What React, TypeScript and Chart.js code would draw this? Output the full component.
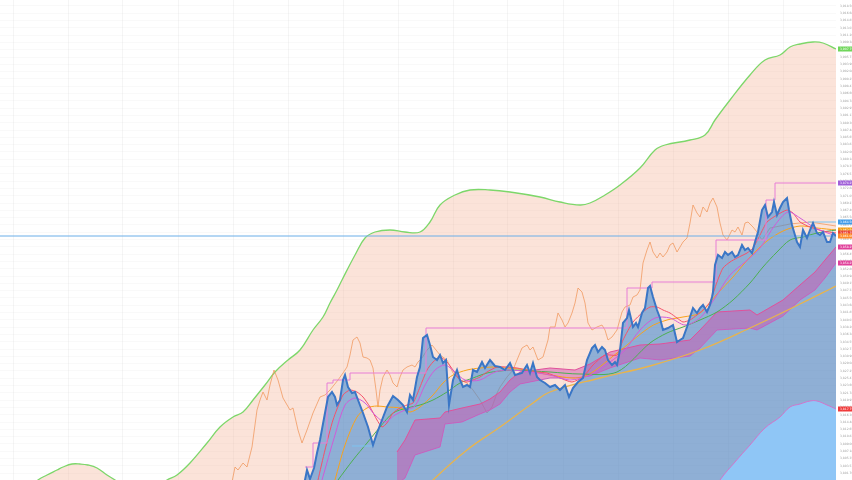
import React, { useEffect, useRef } from "react";
import { Chart, registerables } from "chart.js";

Chart.register(...registerables);

type P = [number, number | null];

// time index (bars) vs price
const upperBand: P[] = [
  [7, 3797.5], [9.5, 3800], [11.75, 3801.25], [14.25, 3802.5], [15.75, 3803.25], [18, 3804], [20, 3804],
  [22, 3803.75], [24.25, 3803], [26.75, 3801.25], [28.75, 3800], [31.25, 3798], [35, 3797], [38.75, 3798],
  [41.75, 3800], [44.25, 3801.25], [47.5, 3804.25], [51.75, 3809.25], [55, 3813.25], [58.25, 3815.75],
  [60.75, 3817], [63.25, 3820], [66.25, 3823.75], [68.75, 3827], [72, 3830], [75, 3832.5], [78.25, 3837.5],
  [80.75, 3840.75], [82.5, 3844.25], [84.25, 3847.5], [85.5, 3850], [88.75, 3856.25], [91.25, 3860.5],
  [93.75, 3862], [97.5, 3862.5], [101.25, 3862], [105, 3862], [107.5, 3864.5], [110, 3868.75],
  [113.75, 3871.25], [117.5, 3872.5], [122.5, 3872.5], [127.5, 3872], [135, 3870.75], [140, 3869.5],
  [145, 3868.75], [147.5, 3869.25], [151.25, 3871.25], [155, 3873.75], [160, 3878], [163.75, 3882.5],
  [166.25, 3883.75], [172.5, 3885], [176.25, 3886.25], [178.75, 3890], [182.5, 3895], [187.5, 3901.25],
  [191.25, 3905], [195, 3906.25], [197.5, 3908.25], [200, 3909], [203.25, 3909.5], [205.75, 3909.25],
  [209, 3907.75],
];

const lowerBand: P[] = [
  [178.75, 3797.5], [180, 3800], [183.75, 3804.5], [187.5, 3808.75], [191.25, 3813], [195, 3815.75],
  [197.5, 3818.25], [200, 3819], [202.5, 3819.75], [204.25, 3819.75], [206.75, 3818.75], [209, 3817.75],
];

const price: P[] = [
  [75, 3797.5], [76.25, 3800], [76.75, 3802.5], [77.5, 3800.25], [78.5, 3803], [79.25, 3806.75], [80, 3810],
  [81.25, 3816.75], [82, 3820.75], [83, 3822], [83.75, 3820.75], [84.25, 3818.75], [85, 3820], [85.75, 3825],
  [86.25, 3826.25], [87, 3823.25], [88, 3821.75], [88.75, 3822], [89.5, 3820], [90.75, 3816.75], [92, 3813.25],
  [93.25, 3808.75], [94.25, 3811.75], [95.5, 3815], [96.75, 3818.25], [98.25, 3821], [99.5, 3820],
  [100.75, 3818.75], [101.75, 3817], [102.5, 3821.25], [103.25, 3820], [104.25, 3825.75], [105, 3828.25],
  [105.75, 3835.5], [106.75, 3836.25], [107.5, 3833.75], [108.25, 3830.75], [109.25, 3830], [110, 3831.25],
  [110.75, 3829.25], [111.5, 3830], [112.25, 3818.75], [113.25, 3825], [114.25, 3827.5], [115, 3825],
  [115.75, 3823.25], [116.75, 3823.75], [117.5, 3823.25], [118.25, 3827.5], [119.25, 3827], [120.5, 3829.5],
  [121.25, 3828], [122.5, 3830], [123.75, 3828.5], [125, 3828.25], [126.25, 3827.5], [127.5, 3829.25],
  [128.75, 3826.25], [130.5, 3826.75], [131.75, 3828.75], [132.5, 3826.75], [133.25, 3829.25],
  [134.25, 3825.75], [135, 3825], [136.25, 3824.25], [137.5, 3823.25], [138.75, 3823.75], [140, 3822.5],
  [141.25, 3823.75], [142.25, 3820.75], [143.25, 3823], [144.5, 3824.5], [145.75, 3825.5], [146.75, 3830],
  [148, 3833], [148.75, 3833.75], [149.5, 3832], [150.5, 3833.25], [151.25, 3832.5], [152, 3830],
  [153, 3828.75], [153.75, 3829.5], [154.25, 3828.75], [155, 3832.5], [155.75, 3839.25], [156.75, 3840.5],
  [157.25, 3842.5], [158.25, 3838.25], [159, 3839.25], [159.5, 3838.25], [160.5, 3841.75], [161.25, 3843],
  [162, 3848], [162.5, 3848.5], [163.25, 3845.75], [164.25, 3842.5], [165, 3840.5], [165.75, 3837.5],
  [167, 3838], [168.25, 3838.75], [169.25, 3834.5], [170, 3835], [170.75, 3835.5], [171.75, 3838.25],
  [172.5, 3840.75], [173.25, 3843], [174.25, 3841.75], [175, 3843], [175.75, 3843.75], [176.75, 3842],
  [177.5, 3843.75], [178, 3845.75], [178.25, 3847], [178.75, 3853.75], [179.5, 3856.25], [180.5, 3855.5],
  [181.25, 3857], [182, 3856.25], [183, 3857], [183.75, 3855.75], [184.5, 3856.25], [185.5, 3858.75],
  [186.25, 3857.5], [187, 3858], [188, 3856.75], [188.75, 3859.5], [189.5, 3862], [190.5, 3867.5],
  [191.25, 3868.75], [192, 3865.75], [193, 3867], [193.5, 3869.5], [194.25, 3866.25], [195, 3868],
  [195.75, 3869.5], [196.75, 3870.5], [197.25, 3867.5], [198, 3863.75], [199.25, 3859.5], [200, 3858.25],
  [200.75, 3862.5], [201.75, 3860.5], [202.5, 3862.5], [203.25, 3864.25], [204.25, 3861.75], [205, 3861.25],
  [205.75, 3862], [206.75, 3859.5], [207.5, 3859.5], [208.25, 3861.75], [209, 3861],
];

const highLine: P[] = [
  [58, 3799.5], [58.75, 3803.25], [59.5, 3802.5], [60.75, 3804.25], [61.75, 3803.25], [63, 3808.25],
  [64.25, 3817.5], [65, 3820], [65.75, 3822], [66.75, 3820], [67.5, 3823.75], [68.5, 3827.5], [69.5, 3825],
  [70.75, 3820.5], [72.5, 3817.5], [73.25, 3818], [74.5, 3812.5], [75.5, 3809.25], [76.75, 3812.5],
  [78.25, 3816.75], [80, 3820.75], [81.25, 3821.25], [82.5, 3822.5], [84.5, 3825], [85.75, 3826.75],
  [86.75, 3828.25], [87.5, 3831.25], [88.25, 3835], [89.25, 3835.75], [90, 3834.25], [90.75, 3830.75],
  [91.75, 3830.5], [92.5, 3830], [93.25, 3828], [94, 3822.5], [94.5, 3818.25], [95, 3822.5], [95.75, 3825.75],
  [96.75, 3827.5], [97.5, 3826.25], [98.25, 3824.25], [99.25, 3823.25], [100, 3825.75], [100.75, 3827.5],
  [101.75, 3828.25], [103, 3828.75], [103.75, 3828.25], [104.5, 3829.5], [105.5, 3830.5], [106.75, 3832.5],
  [108, 3833.75], [110, 3831.25], [111.75, 3830], [113.25, 3826.75], [115, 3825], [116.75, 3824.25],
  [118.25, 3822.5], [120, 3820], [121.75, 3816.75], [123, 3818.25], [124.25, 3821.75], [125, 3823.25],
  [126.75, 3825.75], [128.25, 3827.5], [129.25, 3830], [130.5, 3833], [131.75, 3833.75], [132.5, 3832.5],
  [133.25, 3833.25], [134.5, 3830], [135.75, 3830.75], [137, 3835], [137.5, 3838.25], [138.75, 3838.25],
  [139.5, 3841.75], [140.5, 3840], [141.25, 3838.25], [142, 3839.25], [143, 3841.75], [143.75, 3844.25],
  [144.5, 3848], [145.5, 3847], [146.25, 3844.25], [147, 3839.25], [148, 3837.5], [149.25, 3838.25],
  [150.5, 3838.75], [151.25, 3837.5], [152, 3835], [153, 3835.75], [154.25, 3837.5], [155.5, 3842],
  [156.25, 3843.25], [157.5, 3843.75], [158.25, 3845.75], [159.25, 3846.25], [160, 3847.5], [160.75, 3854.25],
  [161.75, 3857.5], [162.5, 3859.5], [163.25, 3857], [164.25, 3855.5], [165, 3856.75], [165.75, 3855.75],
  [166.75, 3857], [167.5, 3858.75], [168.25, 3859.25], [169.25, 3857], [170, 3858.25], [170.75, 3859.5],
  [171.75, 3860.5], [172.5, 3864.25], [173.25, 3868.75], [174.25, 3866.75], [175, 3865.75], [175.75, 3868.25],
  [176.75, 3867], [177.5, 3869.25], [178.25, 3870.5], [179.25, 3868.25], [180, 3864.25], [180.75, 3861.25],
  [181.75, 3860], [183, 3862.5], [183.75, 3862], [184.5, 3863.25], [185.5, 3861.25], [186.25, 3864.25],
  [187, 3864.5], [188.25, 3863.25], [189.25, 3862], [190.5, 3860], [192.5, 3863], [197.5, 3864],
  [202.5, 3864.5], [209, 3863.5],
];

const fastMA: P[] = [
  [79.5, 3800], [81.25, 3807.5], [83.25, 3815], [85.75, 3821.25], [87.5, 3822.5], [89.25, 3822],
  [90.75, 3820.75], [92.5, 3818.25], [94.25, 3815], [95.5, 3813.25], [96.75, 3814.25], [98.25, 3816.75],
  [100, 3818], [101.75, 3818.75], [103.25, 3819.25], [105, 3823.25], [106.75, 3827.5], [108.25, 3829.5],
  [110, 3830.75], [111.75, 3829.5], [113.25, 3827.5], [115, 3825], [116.75, 3824.5], [118.25, 3825],
  [120, 3825.75], [121.75, 3827], [124.25, 3828.25], [126.75, 3828.25], [129.25, 3828], [131.75, 3827.5],
  [134.25, 3827], [136.75, 3826.75], [140, 3825.5], [143, 3824.5], [145.75, 3825.75], [148.25, 3828.75],
  [151.25, 3831.25], [154.25, 3831.25], [155.75, 3835], [158.25, 3839.5], [160.75, 3842], [162.5, 3843.25],
  [164.25, 3843.25], [165.75, 3842.5], [167.5, 3841.75], [169.25, 3840.5], [170.75, 3839.5], [172.5, 3840],
  [174.25, 3841.25], [175.75, 3842.5], [177.5, 3844.5], [179.25, 3849.5], [180.75, 3853], [182.5, 3854.5],
  [184.25, 3855.5], [186.75, 3856.75], [188.25, 3858], [190, 3861.25], [191.75, 3864.5], [194.25, 3866.25],
  [196.75, 3867.5], [198.25, 3866.75], [200, 3864.5], [202.5, 3863.25], [205.75, 3862.25], [209, 3861.75],
];

const midMA: P[] = [
  [80.5, 3800], [83.75, 3811.25], [86.25, 3818.75], [88.75, 3820.5], [91.25, 3819.25], [93.75, 3816.25],
  [96.25, 3814.5], [98.75, 3816.25], [101.25, 3817.5], [103.75, 3818.5], [106.25, 3823.75], [108.75, 3827.5],
  [111.25, 3828.75], [113.75, 3827], [116.25, 3825], [120, 3825], [123.75, 3827], [127.5, 3827.5],
  [132.5, 3827], [137.5, 3826.25], [142.5, 3825], [147.5, 3826.25], [152.5, 3829.5], [156.25, 3832.5],
  [160, 3837.5], [163.75, 3840.5], [167.5, 3840.5], [171.25, 3838.75], [175, 3840.5], [178.75, 3845.5],
  [182.5, 3851.25], [186.25, 3854.5], [190, 3858], [193.75, 3863.75], [197, 3867], [200, 3865.5],
  [203.75, 3863], [209, 3861],
];

const greenMA: P[] = [
  [84.5, 3800], [88.25, 3805], [91.75, 3809.25], [95, 3813.25], [98.25, 3816.75], [101.75, 3818],
  [105, 3818.75], [108.25, 3820], [111.75, 3822], [115, 3824.25], [118.25, 3825.5], [121.75, 3826.75],
  [125, 3827.25], [128.25, 3827.5], [133.25, 3827.25], [137.5, 3827], [145, 3826.5], [154.25, 3827],
  [162.5, 3834.25], [166.75, 3836.75], [170.75, 3838.25], [175, 3840], [179.25, 3842], [183.25, 3845],
  [187.5, 3849.25], [190.75, 3853.25], [194.25, 3857], [197.5, 3860], [200.75, 3860.75], [204.25, 3861.75],
  [209, 3862.5],
];

const orangeMA: P[] = [
  [83.75, 3800], [86.25, 3808.75], [89.25, 3815.75], [91.75, 3818], [94.25, 3818.5], [96.75, 3818.25],
  [100, 3818], [102.5, 3817], [105, 3818.25], [108.25, 3821.25], [110.75, 3824.25], [113.25, 3826.25],
  [116.75, 3827.5], [120, 3828], [123.25, 3828.25], [126.75, 3828], [131.75, 3827.5], [137.5, 3826.25],
  [145.75, 3825.75], [154.25, 3831.75], [162.5, 3838.25], [166.75, 3840], [170.75, 3840.75], [175, 3841.75],
  [179.25, 3846.5], [183.25, 3850.75], [187.5, 3855.75], [191.75, 3859.75], [195.75, 3862.25], [200, 3863.5],
  [204.25, 3863], [209, 3862.5],
];

const longMA: P[] = [
  [106.25, 3797.5], [108.25, 3800], [116.75, 3807.5], [125, 3813.25], [133.25, 3819.25], [137.5, 3822],
  [150, 3825.5], [162.5, 3828.5], [175, 3832.5], [187.5, 3838], [200, 3844], [209, 3848.5],
];

const cloudT = [99.25, 101.25, 103.75, 110, 111.25, 115.5, 120, 122.5, 125, 127.5, 130, 137.5, 143.75, 147.5,
  152.5, 160, 165, 172.5, 175, 179.25, 187.5, 189.25, 195.75, 200, 203.75, 206.25, 209];
const cloudA = [3807, 3810, 3815, 3815.5, 3817, 3818, 3819, 3820.25, 3822, 3825, 3827, 3828, 3827.5, 3829,
  3832, 3833.75, 3834, 3835, 3837.5, 3842, 3842.5, 3841.25, 3845, 3848.75, 3852, 3855, 3858.25];
const cloudB = [3799, 3800.5, 3806.25, 3808.25, 3814, 3814.5, 3816.5, 3817.5, 3819, 3822, 3824, 3825.5, 3825.5,
  3826, 3828, 3830.5, 3830, 3831, 3833, 3837.5, 3838, 3837.5, 3841, 3845, 3847.5, 3850.5, 3854.25];

const highestHigh: P[] = [
  [76.25, 3803.25], [78.25, 3809.25], [81.75, 3824.25], [83.25, 3825], [87.5, 3826.75], [106.5, 3838],
  [156.75, 3848], [163, 3849.5], [179, 3860], [191.5, 3870], [193.75, 3874.25], [209, 3874.25],
];

const levelLine: P[] = [
  [88, 3808.5], [93, 3808.5], [93, null], [202, 3864.5], [209, 3864.5],
];

const lastClose: P[] = [[0, 3861], [209, 3861]];

const yMin = 3800;
const yMax = 3920;
const yTickStart = 3918.5;
const yTickStep = 1.825;
const xGridStart = 3.25;
const xGridStep = 13.75;

const pts = (a: P[]) => a.map(([x, y]) => ({ x, y }));

export default function App() {
  const ref = useRef<HTMLCanvasElement | null>(null);
  useEffect(() => {
    if (!ref.current) return;
    const labelSpecs = [
      { ds: 0, color: "#6fd65a" },
      { ds: 11, color: "#a060d8" },
      { ds: 12, color: "#3f9be8" },
      { ds: 8, color: "#f39c12" },
      { ds: 10, color: "#e8443a" },
      { ds: 13, color: "#ff8a2a" },
      { ds: 4, color: "#e0409a" },
      { ds: 5, color: "#e0409a" },
      { ds: 3, color: "#f03a3a" },
    ];
    const fmt = (v: number) =>
      Number(v).toLocaleString("en-US", { minimumFractionDigits: 2, maximumFractionDigits: 2 });
    const labelPlugin = {
      id: "lastLabels",
      afterDraw(chart: any) {
        const ctx = chart.ctx;
        const ys = chart.scales.y;
        const right = chart.chartArea.right;
        ctx.save();
        for (const s of labelSpecs) {
          const data = chart.data.datasets[s.ds].data as any[];
          let v: number | null = null;
          for (let i = data.length - 1; i >= 0; i--) {
            if (data[i].y !== null && data[i].y !== undefined) { v = data[i].y; break; }
          }
          if (v === null) continue;
          const y = ys.getPixelForValue(v);
          ctx.fillStyle = s.color;
          ctx.fillRect(right + 2, y - 2.5, chart.width - right - 2, 5);
          ctx.fillStyle = "#ffffff";
          ctx.font = "3px 'DejaVu Sans', sans-serif";
          ctx.textBaseline = "middle";
          ctx.textAlign = "left";
          ctx.fillText(fmt(v), right + 4, y);
        }
        ctx.restore();
      },
    };

    const line = (data: any[], color: string, width: number, order: number, extra: any = {}) => ({
      data,
      borderColor: color,
      borderWidth: width,
      pointRadius: 0,
      fill: false,
      order,
      tension: 0,
      ...extra,
    });

    const chart = new Chart(ref.current, {
      type: "line",
      data: {
        datasets: [
          line(pts(upperBand), "#7dd76a", 1.3, 10, { fill: "start", backgroundColor: "rgba(242,170,140,0.33)", tension: 0.4 }),
          line(pts(highLine), "rgba(240,150,90,0.75)", 1, 9),
          line(pts(price), "rgba(0,0,0,0)", 0, 8, { fill: "start", backgroundColor: "rgba(70,140,210,0.6)" }),
          line(pts(lowerBand), "rgba(215,110,200,0.9)", 1, 7, { fill: "start", backgroundColor: "#8fc6f6", tension: 0.4 }),
          line(cloudT.map((x, i) => ({ x, y: cloudA[i] })), "#e0509a", 1, 6, { fill: "+1", backgroundColor: "rgba(205,85,175,0.5)" }),
          line(cloudT.map((x, i) => ({ x, y: cloudB[i] })), "#c565c5", 1, 6),
          line(pts(longMA), "#e9b44c", 1.3, 4, { tension: 0.4 }),
          line(pts(greenMA), "#4caf50", 1, 4, { tension: 0.3 }),
          line(pts(orangeMA), "#f7a21b", 1, 4, { tension: 0.3 }),
          line(pts(midMA), "#d05ad8", 1, 3, { tension: 0.3 }),
          line(pts(fastMA), "#f4506a", 1, 3, { tension: 0.2 }),
          line(pts(highestHigh), "#e77fd6", 1, 2, { stepped: true }),
          line(pts(levelLine), "#7cc3f0", 1, 2, { spanGaps: false }),
          line(pts(lastClose), "#6aaee8", 1, 2),
          line(pts(price), "#3a76c6", 2, 1),
        ],
      },
      options: {
        animation: false,
        responsive: false,
        devicePixelRatio: 1,
        layout: { padding: 0 },
        plugins: { legend: { display: false }, tooltip: { enabled: false } },
        scales: {
          x: {
            type: "linear",
            min: 0,
            max: 209,
            bounds: "data",
            border: { display: false },
            grid: { color: "rgba(0,0,0,0.04)", drawTicks: false },
            ticks: { display: false },
            afterBuildTicks: (s: any) => {
              const t = [];
              for (let v = xGridStart; v <= 209; v += xGridStep) t.push({ value: v });
              s.ticks = t;
            },
            afterFit: (s: any) => {
              s.height = 0;
              s.paddingLeft = 0;
              s.paddingRight = 0;
            },
          },
          y: {
            type: "linear",
            position: "right",
            min: yMin,
            max: yMax,
            bounds: "data",
            border: { display: false },
            grid: { color: "rgba(0,0,0,0.025)", drawTicks: false },
            ticks: {
              autoSkip: false,
              padding: 4,
              color: "#a0a0a0",
              font: { size: 3, family: "'DejaVu Sans', sans-serif" },
              callback: (v: any) => fmt(Number(v)),
            },
            afterBuildTicks: (s: any) => {
              const t = [];
              for (let v = yTickStart; v > yMin; v -= yTickStep) t.push({ value: v });
              s.ticks = t;
            },
            afterFit: (s: any) => {
              s.width = 16;
              s.paddingTop = 0;
              s.paddingBottom = 0;
            },
          },
        },
      },
      plugins: [labelPlugin],
    } as any);
    return () => chart.destroy();
  }, []);

  return (
    <div style={{ position: "fixed", left: 0, top: 0, width: 852, height: 480, background: "#fff" }}>
      <canvas ref={ref} width={852} height={480} style={{ display: "block" }} />
    </div>
  );
}
